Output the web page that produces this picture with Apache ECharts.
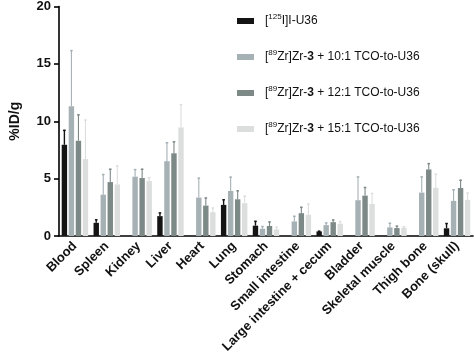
<!DOCTYPE html>
<html>
<head>
<meta charset="utf-8">
<script src="https://cdn.jsdelivr.net/npm/echarts@6/dist/echarts.min.js"></script>
<style>html,body{margin:0;padding:0;background:#fff}#c{width:474px;height:362px}</style>
</head>
<body>
<div id="c"></div>
<script>
const categories = ['Blood','Spleen','Kidney','Liver','Heart','Lung','Stomach','Small intestine','Large intestine + cecum','Bladder','Skeletal muscle','Thigh bone','Bone (skull)'];
const seriesNames = ['I-U36','Zr 10:1','Zr 12:1','Zr 15:1'];
const iU36 =      [7.95, 1.15, null, 1.73, null, 2.71, 0.9, null, 0.4, null, null, null, 0.67];
const iU36Err =   [1.3, 0.3, null, 0.32, null, 0.49, 0.42, null, 0.06, null, null, null, 0.46];
const zr10 =      [11.3, 3.6, 5.17, 6.52, 3.35, 3.92, 0.63, 1.27, 0.95, 3.12, 0.75, 3.78, 3.06];
const zr10Err =   [4.9, 1.8, 0.66, 1.65, 1.73, 1.25, 0.24, 0.49, 0.23, 2.07, 0.4, 1.41, 1.01];
const zr12 =      [8.3, 4.7, 5.05, 7.21, 2.65, 3.2, 0.87, 1.99, 1.21, 3.52, 0.69, 5.8, 4.18];
const zr12Err =   [2.3, 1.16, 0.81, 1.04, 0.7, 0.78, 0.4, 0.55, 0.23, 0.75, 0.21, 0.55, 0.72];
const zr15 =      [6.7, 4.5, 4.79, 9.46, 2.08, 2.86, 0.58, 1.85, 1.07, 2.8, 0.72, 4.2, 3.14];
const zr15Err =   [3.45, 1.65, 0.34, 2.03, 0.4, 0.66, 0.22, 0.98, 0.23, 0.95, 0.13, 1.23, 0.64];
const yTicks = [0, 5, 10, 15, 20];

const colors = ['#141414', '#a6b1b6', '#7d8987', '#dcdedd'];
const values = [iU36, zr10, zr12, zr15];
const errs = [iU36Err, zr10Err, zr12Err, zr15Err];
const legendText = {
  'I-U36': '{t|[}{s|125}{t|I]I-U36}',
  'Zr 10:1': '{t|[}{s|89}{t|Zr]Zr-}{b|3}{t| + 10:1 TCO-to-U36}',
  'Zr 12:1': '{t|[}{s|89}{t|Zr]Zr-}{b|3}{t| + 12:1 TCO-to-U36}',
  'Zr 15:1': '{t|[}{s|89}{t|Zr]Zr-}{b|3}{t| + 15:1 TCO-to-U36}'
};

const BAR_W = 5.4, GAP = 0.3;
const step = BAR_W * (1 + GAP);
const FONT = 'Liberation Sans, Arial, sans-serif';

const series = [];
values.forEach((v, i) => {
  series.push({
    name: seriesNames[i], type: 'bar', data: v, barWidth: BAR_W, barGap: (GAP * 100) + '%',
    itemStyle: { color: colors[i] }, z: 2
  });
});
values.forEach((v, i) => {
  const data = [];
  v.forEach((val, k) => {
    if (val != null && errs[i][k] != null) data.push([k, val, val + errs[i][k]]);
  });
  series.push({
    type: 'custom', name: seriesNames[i] + ' err', z: 1, silent: true,
    encode: { x: 0, y: [1, 2] },
    data: data,
    renderItem: function (params, api) {
      const c = api.value(0);
      const x = api.coord([c, 0])[0] + (i - 1.5) * step;
      const yb = api.coord([c, api.value(1)])[1];
      const yt = api.coord([c, api.value(2)])[1];
      const st = { stroke: colors[i], lineWidth: i === 0 ? 1.4 : 1.1 };
      return {
        type: 'group', children: [
          { type: 'line', shape: { x1: x, y1: yb, x2: x, y2: yt }, style: st },
          { type: 'line', shape: { x1: x - 1.3, y1: yt + 0.5, x2: x + 1.3, y2: yt + 0.5 }, style: { stroke: colors[i], lineWidth: 1.5 } }
        ]
      };
    }
  });
});

const chart = echarts.init(document.getElementById('c'), null, { renderer: 'canvas' });
chart.setOption({
  animation: false,
  backgroundColor: '#fff',
  textStyle: { fontFamily: FONT },
  grid: { left: 41, right: 1, top: 5, bottom: 126, containLabel: false },
  legend: {
    data: seriesNames, orient: 'vertical', left: 237, top: 13, padding: 0,
    itemWidth: 17, itemHeight: 6, itemGap: 20, icon: 'rect',
    formatter: function (n) { return legendText[n]; },
    textStyle: {
      color: '#111', fontSize: 12, lineHeight: 16, padding: [0, 0, 0, 6],
      rich: {
        t: { fontSize: 12, color: '#111', fontFamily: FONT, lineHeight: 16 },
        b: { fontSize: 12, color: '#111', fontWeight: 'bold', fontFamily: FONT, lineHeight: 16 },
        s: { fontSize: 8, color: '#111', fontFamily: FONT, verticalAlign: 'top', lineHeight: 16, padding: [0, 0, 5, 0] }
      }
    }
  },
  xAxis: {
    type: 'category', data: categories,
    axisLine: { lineStyle: { color: '#000', width: 1.6 } },
    axisTick: { alignWithLabel: true, length: 5, lineStyle: { color: '#000', width: 1.6 } },
    axisLabel: { interval: 0, rotate: 45, fontSize: 13, fontWeight: 'bold', color: '#111', margin: 8 }
  },
  yAxis: {
    type: 'value', min: 0, max: 20, interval: 5,
    name: '%ID/g', nameLocation: 'middle', nameGap: 37,
    nameTextStyle: { fontSize: 14, fontWeight: 'bold', color: '#111' },
    axisLine: { show: true, lineStyle: { color: '#000', width: 1.6 } },
    axisTick: { show: true, length: 5, lineStyle: { color: '#000', width: 1.6 } },
    splitLine: { show: false },
    axisLabel: {
      fontSize: 13, fontWeight: 'bold', color: '#111', margin: 8,
      formatter: function (v) { return yTicks.indexOf(v) >= 0 ? String(v) : ''; }
    }
  },
  series: series
});
</script>
</body>
</html>
